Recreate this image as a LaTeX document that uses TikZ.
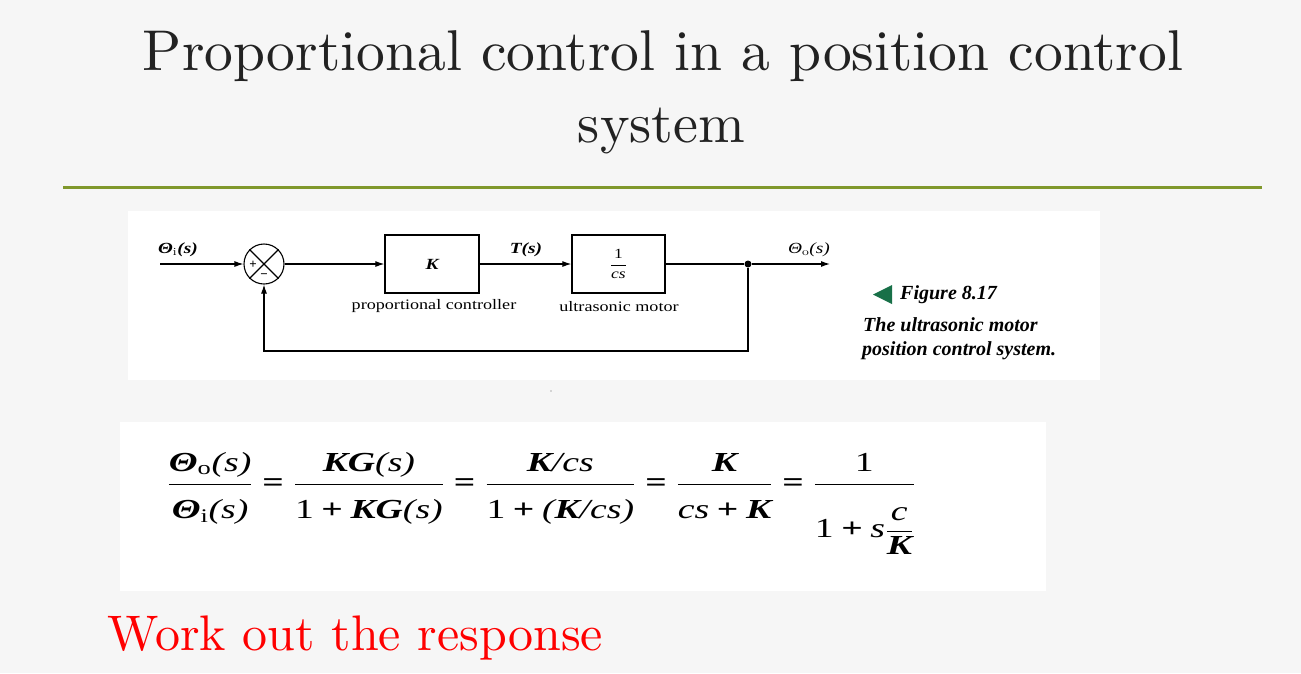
\documentclass[tikz,border=0pt]{standalone}
\usepackage{fontspec}
\usepackage{amsmath}
\usepackage{graphicx}
\newfontfamily\tms{Liberation Serif}
\usetikzlibrary{arrows.meta}
\definecolor{bg}{RGB}{246,246,246}
\definecolor{olivebar}{RGB}{128,152,44}
\definecolor{capgreen}{RGB}{24,112,72}
\definecolor{titlegray}{RGB}{34,34,34}
\definecolor{redtxt}{RGB}{255,0,0}
\newcommand\sx[1]{\scalebox{1.25}[1]{#1}}
\newcommand\bfi[1]{\text{\tms\bfseries\itshape #1}}
\newcommand\ti[1]{\text{\tms\itshape #1}}
\newcommand\tr[1]{\text{\tms #1}}
\newcommand\beq{\mathrel{\text{\tms\bfseries =}}}
\newcommand\bpl{\mathbin{\text{\tms\bfseries +}}}
\newcommand\nstr{\rule[-10.5pt]{0pt}{0pt}}
\newcommand\dstr{\rule{0pt}{30pt}}
\newcommand\lstr{\rule{0pt}{49pt}}
\begin{document}
\begin{tikzpicture}[x=1pt,y=-1pt,
  blk/.style={draw,line width=1.3pt,minimum width=94pt,minimum height=58pt,inner sep=0pt},
  sig/.style={line width=1.1pt,-{Latex[length=9pt,width=6pt]}},
  wire/.style={line width=1.1pt},
  lbl/.style={font=\tms\fontsize{15.5}{17}\selectfont,inner sep=0pt},
  captxt/.style={font=\tms\bfseries\itshape\fontsize{20}{22}\selectfont,inner sep=0pt,anchor=base west},
  slide/.style={inner sep=0pt,anchor=base},
]
\fill[bg] (0,0) rectangle (1301,673);
\useasboundingbox (0,0) rectangle (1301,673);

% title
\node[slide,text=titlegray] (t1) at (663,70) {\resizebox{1040pt}{!}{Proportional control in a position control}};
\node[slide,text=titlegray] (t2) at (661.5,142) {\resizebox{167pt}{!}{system}};
\draw[olivebar,line width=3pt] (63,187.5) -- (1262,187.5);

% panels
\fill[white] (128,211) rectangle (1100,380);
\fill[white] (120,422) rectangle (1046,591);
\fill[gray!60] (551,391) circle (0.8pt);

% block diagram
\coordinate (in) at (160,264);
\node[circle,draw,line width=1.1pt,minimum size=40pt,inner sep=0pt] (sum) at (264,264) {};
\draw[wire] (sum.north west) -- (sum.south east);
\draw[wire] (sum.north east) -- (sum.south west);
\node[lbl,font=\tms\bfseries\fontsize{13}{13}\selectfont] (plus) at (253,264.5) {+};
\node[lbl,font=\tms\bfseries\fontsize{13}{13}\selectfont] (minus) at (264,276) {−};
\node[blk] (kb) at (432,264) {\tms\fontsize{15.5}{17}\selectfont\sx{\bfseries\itshape K}};
\node[blk,minimum width=93pt] (gb) at (618.5,264) {\tms\fontsize{14}{15}\selectfont\sx{$\dfrac{\tr{1}}{\ti{cs}}$}};
\node[circle,fill,inner sep=0pt,minimum size=7pt] (br) at (748,264) {};
\coordinate (out) at (830,264);
\coordinate (fb) at (748,351);
\draw[sig] (in) -- (sum.west);
\draw[sig] (sum.east) -- (kb.west);
\draw[sig] (kb.east) -- (gb.west);
\draw[wire] (gb.east) -- (br);
\draw[sig] (br) -- (out);
\draw[sig] (br) -- (fb) -| (sum.south);

\node[lbl] (lin) at (178,250) {\sx{\bfseries\itshape Θ\textsubscript{\normalfont i}(s)}};
\node[lbl] (lt) at (526,250) {\sx{\bfseries\itshape T(s)}};
\node[lbl] (lout) at (809,250) {\sx{\itshape Θ\textsubscript{\normalfont o}(s)}};
\node[lbl,font=\tms\fontsize{14.5}{16}\selectfont] (lk) at (434,306.5) {\sx{proportional controller}};
\node[lbl,font=\tms\fontsize{14.5}{16}\selectfont] (lg) at (619,306.5) {\sx{ultrasonic motor}};

% caption
\fill[capgreen] (873,294.5) -- (892,285) -- (892,304) -- cycle;
\node[captxt] (c1) at (900,299) {Figure 8.17};
\node[captxt] (c2) at (863,331.5) {The ultrasonic motor};
\node[captxt] (c3) at (862,355) {position control system.};

% equation
\node[inner sep=0pt,anchor=base west] (eq) at (167,491.2) {\resizebox{748pt}{\height}{\fontsize{27.5}{32}\selectfont$\displaystyle
\frac{\nstr\bfi{Θ}_{\text{\tms o}}\ti{(s)}}{\dstr\bfi{Θ}_{\text{\tms i}}\ti{(s)}} \beq
\frac{\nstr\bfi{KG}\ti{(s)}}{\dstr\tr{1} \bpl \bfi{KG}\ti{(s)}} \beq
\frac{\nstr\bfi{K}\ti{/cs}}{\dstr\tr{1} \bpl \ti{(}\bfi{K}\ti{/cs)}} \beq
\frac{\nstr\bfi{K}}{\dstr\ti{cs} \bpl \bfi{K}} \beq
\frac{\nstr\tr{1}}{\lstr\tr{1} \bpl \ti{s}\dfrac{\ti{c}}{\bfi{K}}}$}};

% red line
\node[slide,text=redtxt] (work) at (355.5,650) {\resizebox{495pt}{!}{Work out the response}};
\end{tikzpicture}
\end{document}
